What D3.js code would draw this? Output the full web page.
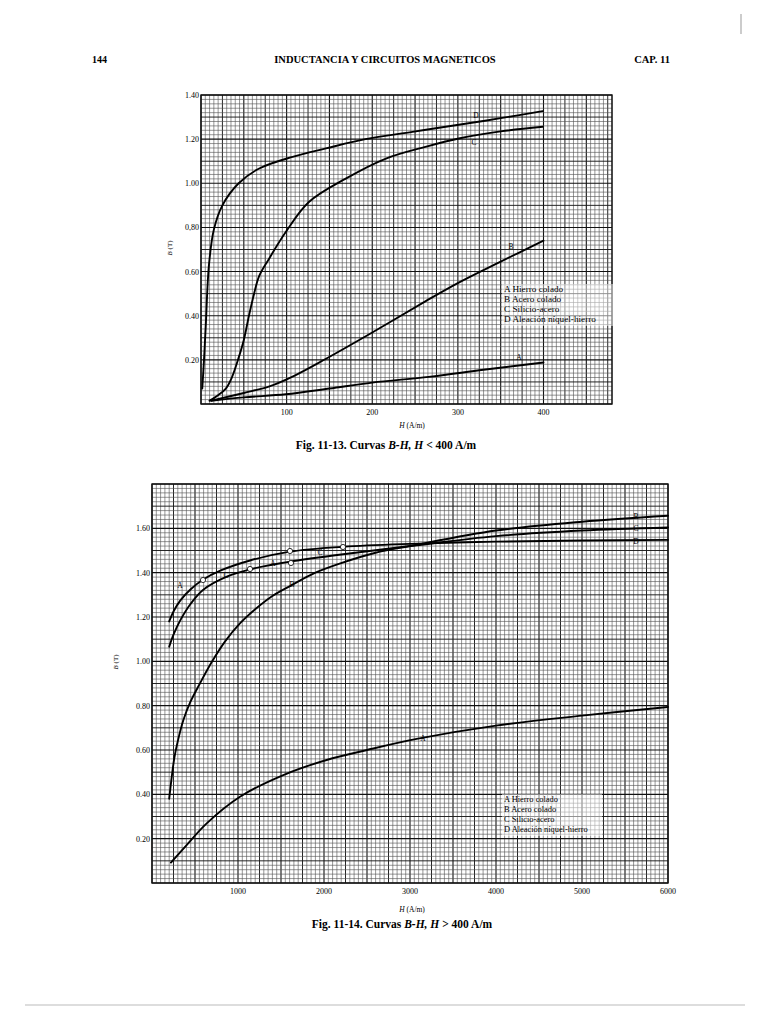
<!DOCTYPE html>
<html><head><meta charset="utf-8">
<script src="https://cdn.jsdelivr.net/npm/d3@7"></script>
<style>
html,body{margin:0;padding:0;background:#fff;}
svg{display:block;font-family:"Liberation Serif","DejaVu Serif",serif;}
text{fill:#000;}
</style></head>
<body>
<svg id="page" width="768" height="1024"></svg>
<script>
// ---------- DATA ----------
// Fig. 11-13 (H < 400 A/m)
const fig1Categories = ["A", "B", "C", "D"];
const fig1XTicks = [100, 200, 300, 400];
const fig1YTicks = [0.20, 0.40, 0.60, 0.80, 1.00, 1.20, 1.40];
const fig1YTickLabels = ["0.20", "0.40", "0.60", "0,80", "1.00", "1.20", "1.40"];
const fig1A_H = [12, 50, 99, 150, 200, 266, 330, 400];
const fig1A_B = [0.015, 0.03, 0.044, 0.07, 0.097, 0.123, 0.155, 0.188];
const fig1B_H = [12, 50, 80, 110, 146, 200, 262, 301, 350, 400];
const fig1B_B = [0.015, 0.05, 0.08, 0.13, 0.205, 0.324, 0.465, 0.55, 0.645, 0.74];
const fig1C_H = [10, 20, 29, 36, 44, 50, 56, 62, 68, 79, 99, 126, 169, 216, 262, 301, 350, 399];
const fig1C_B = [0.015, 0.04, 0.07, 0.12, 0.21, 0.29, 0.40, 0.50, 0.58, 0.655, 0.779, 0.915, 1.021, 1.112, 1.165, 1.203, 1.235, 1.256];
const fig1D_H = [1.5, 3.5, 5.5, 9.3, 15, 25, 44, 68, 107, 146, 192, 247, 301, 350, 399];
const fig1D_B = [0.07, 0.2, 0.35, 0.63, 0.79, 0.90, 1.00, 1.067, 1.12, 1.158, 1.20, 1.233, 1.265, 1.295, 1.327];
const fig1Legend = ["A  Hierro colado", "B  Acero colado", "C  Silicio-acero", "D  Aleación níquel-hierro"];

// Fig. 11-14 (H > 400 A/m)
const fig2XTicks = [1000, 2000, 3000, 4000, 5000, 6000];
const fig2YTicks = [0.20, 0.40, 0.60, 0.80, 1.00, 1.20, 1.40, 1.60];
const fig2YTickLabels = ["0.20", "0.40", "0.60", "0.80", "1.00", "1.20", "1.40", "1.60"];
const fig2A_H = [220, 400, 636, 1023, 1527, 2031, 2500, 3078, 4000, 5000, 6000];
const fig2A_B = [0.092, 0.17, 0.269, 0.389, 0.487, 0.555, 0.60, 0.65, 0.71, 0.755, 0.794];
const fig2B_H = [200, 230, 260, 300, 365, 450, 550, 700, 850, 1020, 1200, 1400, 1625, 1900, 2190, 2600, 3000, 4000, 5000, 6000];
const fig2B_B = [0.38, 0.48, 0.565, 0.64, 0.735, 0.82, 0.895, 1.0, 1.09, 1.17, 1.235, 1.295, 1.344, 1.40, 1.442, 1.49, 1.52, 1.59, 1.63, 1.657];
const fig2C_H = [200, 250, 330, 450, 600, 870, 1140, 1605, 2200, 3000, 4000, 5000, 6000];
const fig2C_B = [1.066, 1.12, 1.186, 1.26, 1.324, 1.382, 1.415, 1.45, 1.482, 1.52, 1.565, 1.59, 1.604];
const fig2D_H = [200, 250, 330, 450, 600, 800, 1140, 1605, 2225, 3000, 4000, 5000, 6000];
const fig2D_B = [1.18, 1.225, 1.275, 1.325, 1.37, 1.41, 1.455, 1.495, 1.517, 1.53, 1.54, 1.545, 1.548];
const fig2Legend = ["A  Hierro colado", "B  Acero colado", "C  Silicio-acero", "D  Aleación níquel-hierro"];

// ---------- DRAW ----------
const svg = d3.select("#page");
const zip = (hs, bs) => hs.map((h, i) => [h, bs[i]]);

// page header
svg.append("text").attr("x", 92).attr("y", 63).attr("font-size", 10).attr("font-weight", "bold").text("144");
svg.append("text").attr("x", 385).attr("y", 63).attr("text-anchor", "middle").attr("font-size", 10.5).attr("font-weight", "bold").text("INDUCTANCIA Y CIRCUITOS MAGNETICOS");
svg.append("text").attr("x", 670).attr("y", 63).attr("text-anchor", "end").attr("font-size", 10.5).attr("font-weight", "bold").text("CAP. 11");
// scan page edges
svg.append("line").attr("x1", 741).attr("x2", 741).attr("y1", 14).attr("y2", 34).attr("stroke", "#999").attr("stroke-width", 1);
svg.append("line").attr("x1", 25).attr("x2", 745).attr("y1", 1005).attr("y2", 1005).attr("stroke", "#bbb").attr("stroke-width", 1);

function drawChart(cfg) {
  const g = svg.append("g");
  const x = d3.scaleLinear().domain(cfg.xDomain).range(cfg.xRange);
  const y = d3.scaleLinear().domain(cfg.yDomain).range(cfg.yRange);
  const [x0, x1] = cfg.xRange, [y0, y1] = cfg.yRange;

  g.append("rect").attr("x", x0).attr("y", y1).attr("width", x1 - x0).attr("height", y0 - y1).attr("fill", "#fff");

  // grid
  const vx = d3.range(cfg.xDomain[0], cfg.xDomain[1] + 1e-9, cfg.xMinor);
  const vy = d3.range(0, Math.round(cfg.yDomain[1] / 0.02) + 1).map(i => i * 0.02);
  const classify = (v, minor) => {
    const n = Math.round(v / minor);
    if (n % 10 === 0) return 2;
    if (n % 5 === 0) return 1;
    return 0;
  };
  const styles = [{c: "#555", w: 0.62}, {c: "#1a1a1a", w: 0.95}, {c: "#111", w: 1.1}];
  vx.forEach(v => {
    const s = styles[classify(v - cfg.xDomain[0], cfg.xMinor)];
    g.append("line").attr("x1", x(v)).attr("x2", x(v)).attr("y1", y0).attr("y2", y1)
      .attr("stroke", s.c).attr("stroke-width", s.w);
  });
  vy.forEach(v => {
    const s = styles[classify(v, 0.02)];
    g.append("line").attr("x1", x0).attr("x2", x1).attr("y1", y(v)).attr("y2", y(v))
      .attr("stroke", s.c).attr("stroke-width", s.w);
  });
  g.append("rect").attr("x", x0).attr("y", y1).attr("width", x1 - x0).attr("height", y0 - y1)
    .attr("fill", "none").attr("stroke", "#111").attr("stroke-width", 1.4);

  // tick labels
  cfg.yTicks.forEach((v, i) => {
    g.append("text").attr("x", x0 - 2).attr("y", y(v) + 3).attr("text-anchor", "end")
      .attr("font-size", 8).text(cfg.yTickLabels[i]);
  });
  cfg.xTicks.forEach(v => {
    g.append("text").attr("x", x(v)).attr("y", y0 + 11).attr("text-anchor", "middle")
      .attr("font-size", 8).text(v);
  });
  // axis titles
  const yt = g.append("text").attr("transform", `translate(${cfg.yTitle[0]},${cfg.yTitle[1]}) rotate(-90)`)
    .attr("text-anchor", "middle").attr("font-size", 7);
  yt.append("tspan").attr("font-style", "italic").text("B");
  yt.append("tspan").text(" (T)");
  const xt = g.append("text").attr("x", cfg.xTitle[0]).attr("y", cfg.xTitle[1]).attr("text-anchor", "middle").attr("font-size", 7.5);
  xt.append("tspan").attr("font-style", "italic").text("H");
  xt.append("tspan").text(" (A/m)");

  // legend
  const lg = g.append("g");
  lg.append("rect").attr("x", cfg.legend[0] - 2).attr("y", cfg.legend[1] - 8).attr("width", cfg.legendW)
    .attr("height", 42).attr("fill", "#fff").attr("opacity", 0.5);
  cfg.legendItems.forEach((t, i) => {
    lg.append("text").attr("x", cfg.legend[0]).attr("y", cfg.legend[1] + i * 10).attr("font-size", cfg.legendFont).text(t);
  });

  // curves
  const line = d3.line().x(d => x(d[0])).y(d => y(d[1])).curve(d3.curveCatmullRom.alpha(0.5));
  cfg.series.forEach(s => {
    g.append("path").attr("d", line(s)).attr("fill", "none").attr("stroke", "#000").attr("stroke-width", 1.9)
      .attr("stroke-linejoin", "round").attr("stroke-linecap", "round");
  });
  cfg.labels.forEach(l => {
    g.append("text").attr("x", l[0]).attr("y", l[1]).attr("font-size", 7.5).attr("text-anchor", "middle").text(l[2]);
  });
  (cfg.markers || []).forEach(m => {
    g.append("circle").attr("cx", m[0]).attr("cy", m[1]).attr("r", 2.6).attr("fill", "#fff").attr("stroke", "#000").attr("stroke-width", 0.8);
  });

  // caption
  const cap = svg.append("text").attr("x", cfg.caption[0]).attr("y", cfg.caption[1]).attr("text-anchor", "middle")
    .attr("font-size", 11.5).attr("font-weight", "bold");
  cap.append("tspan").text("Fig. " + cfg.figNo + ".  Curvas ");
  cap.append("tspan").attr("font-style", "italic").text("B-H, H");
  cap.append("tspan").text(cfg.capRest);
}

drawChart({
  xDomain: [0, 480], xRange: [201, 612], yDomain: [0, 1.40], yRange: [404, 95],
  xMinor: 5,
  xTicks: fig1XTicks, yTicks: fig1YTicks, yTickLabels: fig1YTickLabels,
  yTitle: [172, 248], xTitle: [412, 428],
  legend: [504, 292], legendW: 112, legendFont: 9.2, legendItems: fig1Legend,
  series: [zip(fig1A_H, fig1A_B), zip(fig1B_H, fig1B_B), zip(fig1C_H, fig1C_B), zip(fig1D_H, fig1D_B)],
  labels: [[476, 118, "D"], [474, 145, "C"], [511, 249, "B"], [519, 360, "A"]],
  caption: [386, 449], figNo: "11-13", capRest: " < 400 A/m"
});

drawChart({
  xDomain: [0, 6000], xRange: [152, 668], yDomain: [0, 1.80], yRange: [883, 484],
  xMinor: 50,
  xTicks: fig2XTicks, yTicks: fig2YTicks, yTickLabels: fig2YTickLabels,
  yTitle: [118, 662], xTitle: [412, 912],
  legend: [504, 802], legendW: 100, legendFont: 8.4, legendItems: fig2Legend,
  series: [zip(fig2A_H, fig2A_B), zip(fig2B_H, fig2B_B), zip(fig2C_H, fig2C_B), zip(fig2D_H, fig2D_B)],
  labels: [[180, 588, "A"], [226, 578, "C"], [273, 566, "A"], [320, 555, "C"], [292, 587, "B"], [423, 741, "A"],
           [636, 519, "B"], [636, 531, "C"], [636, 544, "D"]],
  markers: [[290, 551], [343, 547], [250, 569], [291, 563], [203, 580]],
  caption: [402, 928], figNo: "11-14", capRest: " > 400 A/m"
});
</script>
</body></html>
